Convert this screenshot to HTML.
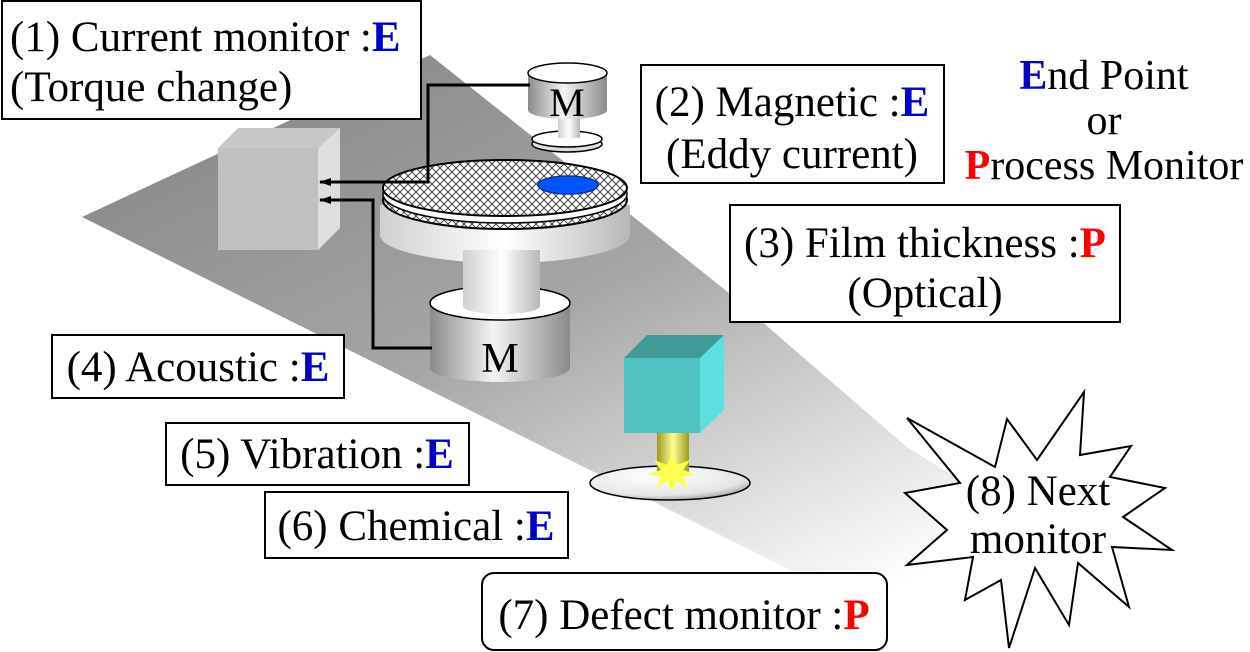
<!DOCTYPE html>
<html><head><meta charset="utf-8"><style>
html,body{margin:0;padding:0;background:#fff}
svg{display:block}
text{font-family:"Liberation Serif",serif;font-size:43px;fill:#000}
.b{fill:#0000cc;font-weight:bold}
.r{fill:#ff0000;font-weight:bold}
</style></head><body>
<svg width="1250" height="652" viewBox="0 0 1250 652" xmlns="http://www.w3.org/2000/svg">
<defs>
<linearGradient id="bg" x1="0.15" y1="0.1" x2="0.85" y2="0.9">
<stop offset="0" stop-color="#8c8c8c"/><stop offset="0.4" stop-color="#a6a6a6"/><stop offset="0.7" stop-color="#dadada"/><stop offset="0.92" stop-color="#ffffff"/></linearGradient>
<linearGradient id="cyl" x1="0" x2="1" y1="0" y2="0">
<stop offset="0" stop-color="#8a8a8a"/><stop offset="0.45" stop-color="#f4f4f4"/><stop offset="1" stop-color="#8a8a8a"/></linearGradient>
<linearGradient id="cyl2" x1="0" x2="1">
<stop offset="0" stop-color="#d0d0d0"/><stop offset="0.5" stop-color="#ffffff"/><stop offset="1" stop-color="#b8b8b8"/></linearGradient>
<linearGradient id="yel" x1="0" x2="1">
<stop offset="0" stop-color="#9a9a20"/><stop offset="0.5" stop-color="#ffff90"/><stop offset="1" stop-color="#9a9a20"/></linearGradient>
<radialGradient id="disc" cx="0.4" cy="0.3" r="0.8"><stop offset="0" stop-color="#fff"/><stop offset="0.7" stop-color="#e6e6e6"/><stop offset="1" stop-color="#888"/></radialGradient>
<pattern id="hatch" width="8" height="8" patternUnits="userSpaceOnUse">
<rect width="8" height="8" fill="#fff"/><path d="M0,0L8,8M8,0L0,8" stroke="#444" stroke-width="1"/></pattern>
<marker id="ar" markerUnits="userSpaceOnUse" markerWidth="12" markerHeight="10" refX="11" refY="5" orient="auto"><path d="M0,1L12,5L0,9z" fill="#000"/></marker>
</defs>

<polygon points="82,217 430,55 724,289 907,447 1200,630 1200,652 955,652" fill="url(#bg)"/>

<polygon points="218,148 238,128 340,128 318,148" fill="#c8c8c8"/>
<polygon points="318,148 340,128 340,228 318,250" fill="#dedede"/>
<rect x="218" y="148" width="100" height="102" fill="#c0c0c0"/>

<ellipse cx="567" cy="144" rx="35" ry="8" fill="#ddd" stroke="#000" stroke-width="1.5"/>
<ellipse cx="567" cy="139" rx="35" ry="8" fill="#fff" stroke="#000" stroke-width="1.5"/>
<rect x="558" y="110" width="22" height="28" fill="url(#cyl2)"/>
<path d="M528,73 L528,110 A39.5,9 0 0 0 607,110 L607,73 Z" fill="url(#cyl)"/>
<ellipse cx="567.5" cy="73" rx="39.5" ry="10" fill="#fff" stroke="#000" stroke-width="1.5"/>
<text x="567" y="116" text-anchor="middle" style="font-size:40px">M</text>

<path d="M380,205 L380,235 A125,28 0 0 0 630,235 L630,205 Z" fill="url(#cyl2)"/>
<path d="M463,250 L463,305 L540,305 L540,250 Z" fill="url(#cyl2)"/>
<ellipse cx="505" cy="200" rx="122" ry="29" fill="url(#hatch)" stroke="#000" stroke-width="2"/>
<ellipse cx="505" cy="194" rx="122" ry="29" fill="#fff" stroke="#000" stroke-width="1.5"/>
<ellipse cx="505" cy="188" rx="122" ry="28" fill="url(#hatch)" stroke="#000" stroke-width="2"/>
<ellipse cx="568" cy="185" rx="30" ry="9" fill="#0055ff" stroke="#1030a0" stroke-width="1.5"/>

<path d="M430,303 L430,368 A70,14 0 0 0 570,368 L570,303 Z" fill="url(#cyl)"/>
<ellipse cx="500" cy="303" rx="70" ry="17" fill="#fff" stroke="#000" stroke-width="1.5"/>
<path d="M463,280 L463,306 A38,8 0 0 0 540,306 L540,280 Z" fill="url(#cyl2)"/>
<text x="500" y="372" text-anchor="middle" style="font-size:42px">M</text>

<polyline points="530,85 428,85 428,182 320,182" fill="none" stroke="#000" stroke-width="3" marker-end="url(#ar)"/>
<polyline points="432,348 373,348 373,200 320,200" fill="none" stroke="#000" stroke-width="3" marker-end="url(#ar)"/>

<ellipse cx="670" cy="483" rx="80" ry="17" fill="url(#disc)" stroke="#000" stroke-width="1.5"/>
<rect x="657" y="432" width="32" height="40" fill="url(#yel)"/>
<polygon points="672,455 677,465 690,460 683,470 695,474 683,477 688,488 677,481 672,491 667,481 656,488 661,477 648,474 661,470 654,460 667,465" fill="#ffff50"/>
<polygon points="624,358 647,335 724,335 700,358" fill="#3f9a98"/>
<polygon points="700,358 724,335 724,410 700,433" fill="#5ee0e0"/>
<rect x="624" y="358" width="76" height="75" fill="#4fc3c0"/>

<rect x="2" y="1" width="419" height="118" fill="#fff" stroke="#000" stroke-width="2"/>
<text x="10" y="51">(1) Current monitor :<tspan class="b">E</tspan></text>
<text x="10" y="101">(Torque change)</text>

<rect x="641" y="65" width="303" height="118" fill="#fff" stroke="#000" stroke-width="2"/>
<text x="792" y="116" text-anchor="middle">(2) Magnetic :<tspan class="b">E</tspan></text>
<text x="792" y="168" text-anchor="middle">(Eddy current)</text>

<text x="1104" y="89" text-anchor="middle" style="font-size:42px"><tspan class="b">E</tspan>nd Point</text>
<text x="1104" y="134" text-anchor="middle" style="font-size:42px">or</text>
<text x="1104" y="179" text-anchor="middle" style="font-size:42px"><tspan class="r">P</tspan>rocess Monitor</text>

<rect x="730" y="205" width="390" height="117" fill="#fff" stroke="#000" stroke-width="2"/>
<text x="925" y="257" text-anchor="middle">(3) Film thickness :<tspan class="r">P</tspan></text>
<text x="925" y="307" text-anchor="middle">(Optical)</text>

<rect x="52" y="335" width="292" height="63" fill="#fff" stroke="#000" stroke-width="2"/>
<text x="198" y="381" text-anchor="middle">(4) Acoustic :<tspan class="b">E</tspan></text>

<rect x="166" y="423" width="303" height="62" fill="#fff" stroke="#000" stroke-width="2"/>
<text x="317" y="468" text-anchor="middle">(5) Vibration :<tspan class="b">E</tspan></text>

<rect x="265" y="492" width="303" height="66" fill="#fff" stroke="#000" stroke-width="2"/>
<text x="416" y="540" text-anchor="middle">(6) Chemical :<tspan class="b">E</tspan></text>

<rect x="482" y="573" width="405" height="77" rx="12" fill="#fff" stroke="#000" stroke-width="2"/>
<text x="684" y="629" text-anchor="middle">(7) Defect monitor :<tspan class="r">P</tspan></text>

<polygon points="907,418 995,467 1007,419 1037,460 1084,392 1080,455 1131,446 1110,477 1165,488 1123,517 1172,550 1112,547 1129,607 1078,563 1069,625 1035,568 1009,648 1001,580 965,600 973,557 907,565 947,530 905,493 960,483" fill="#fff" stroke="#000" stroke-width="2"/>
<text x="1038" y="505" text-anchor="middle">(8) Next</text>
<text x="1038" y="553" text-anchor="middle">monitor</text>
</svg>
</body></html>
